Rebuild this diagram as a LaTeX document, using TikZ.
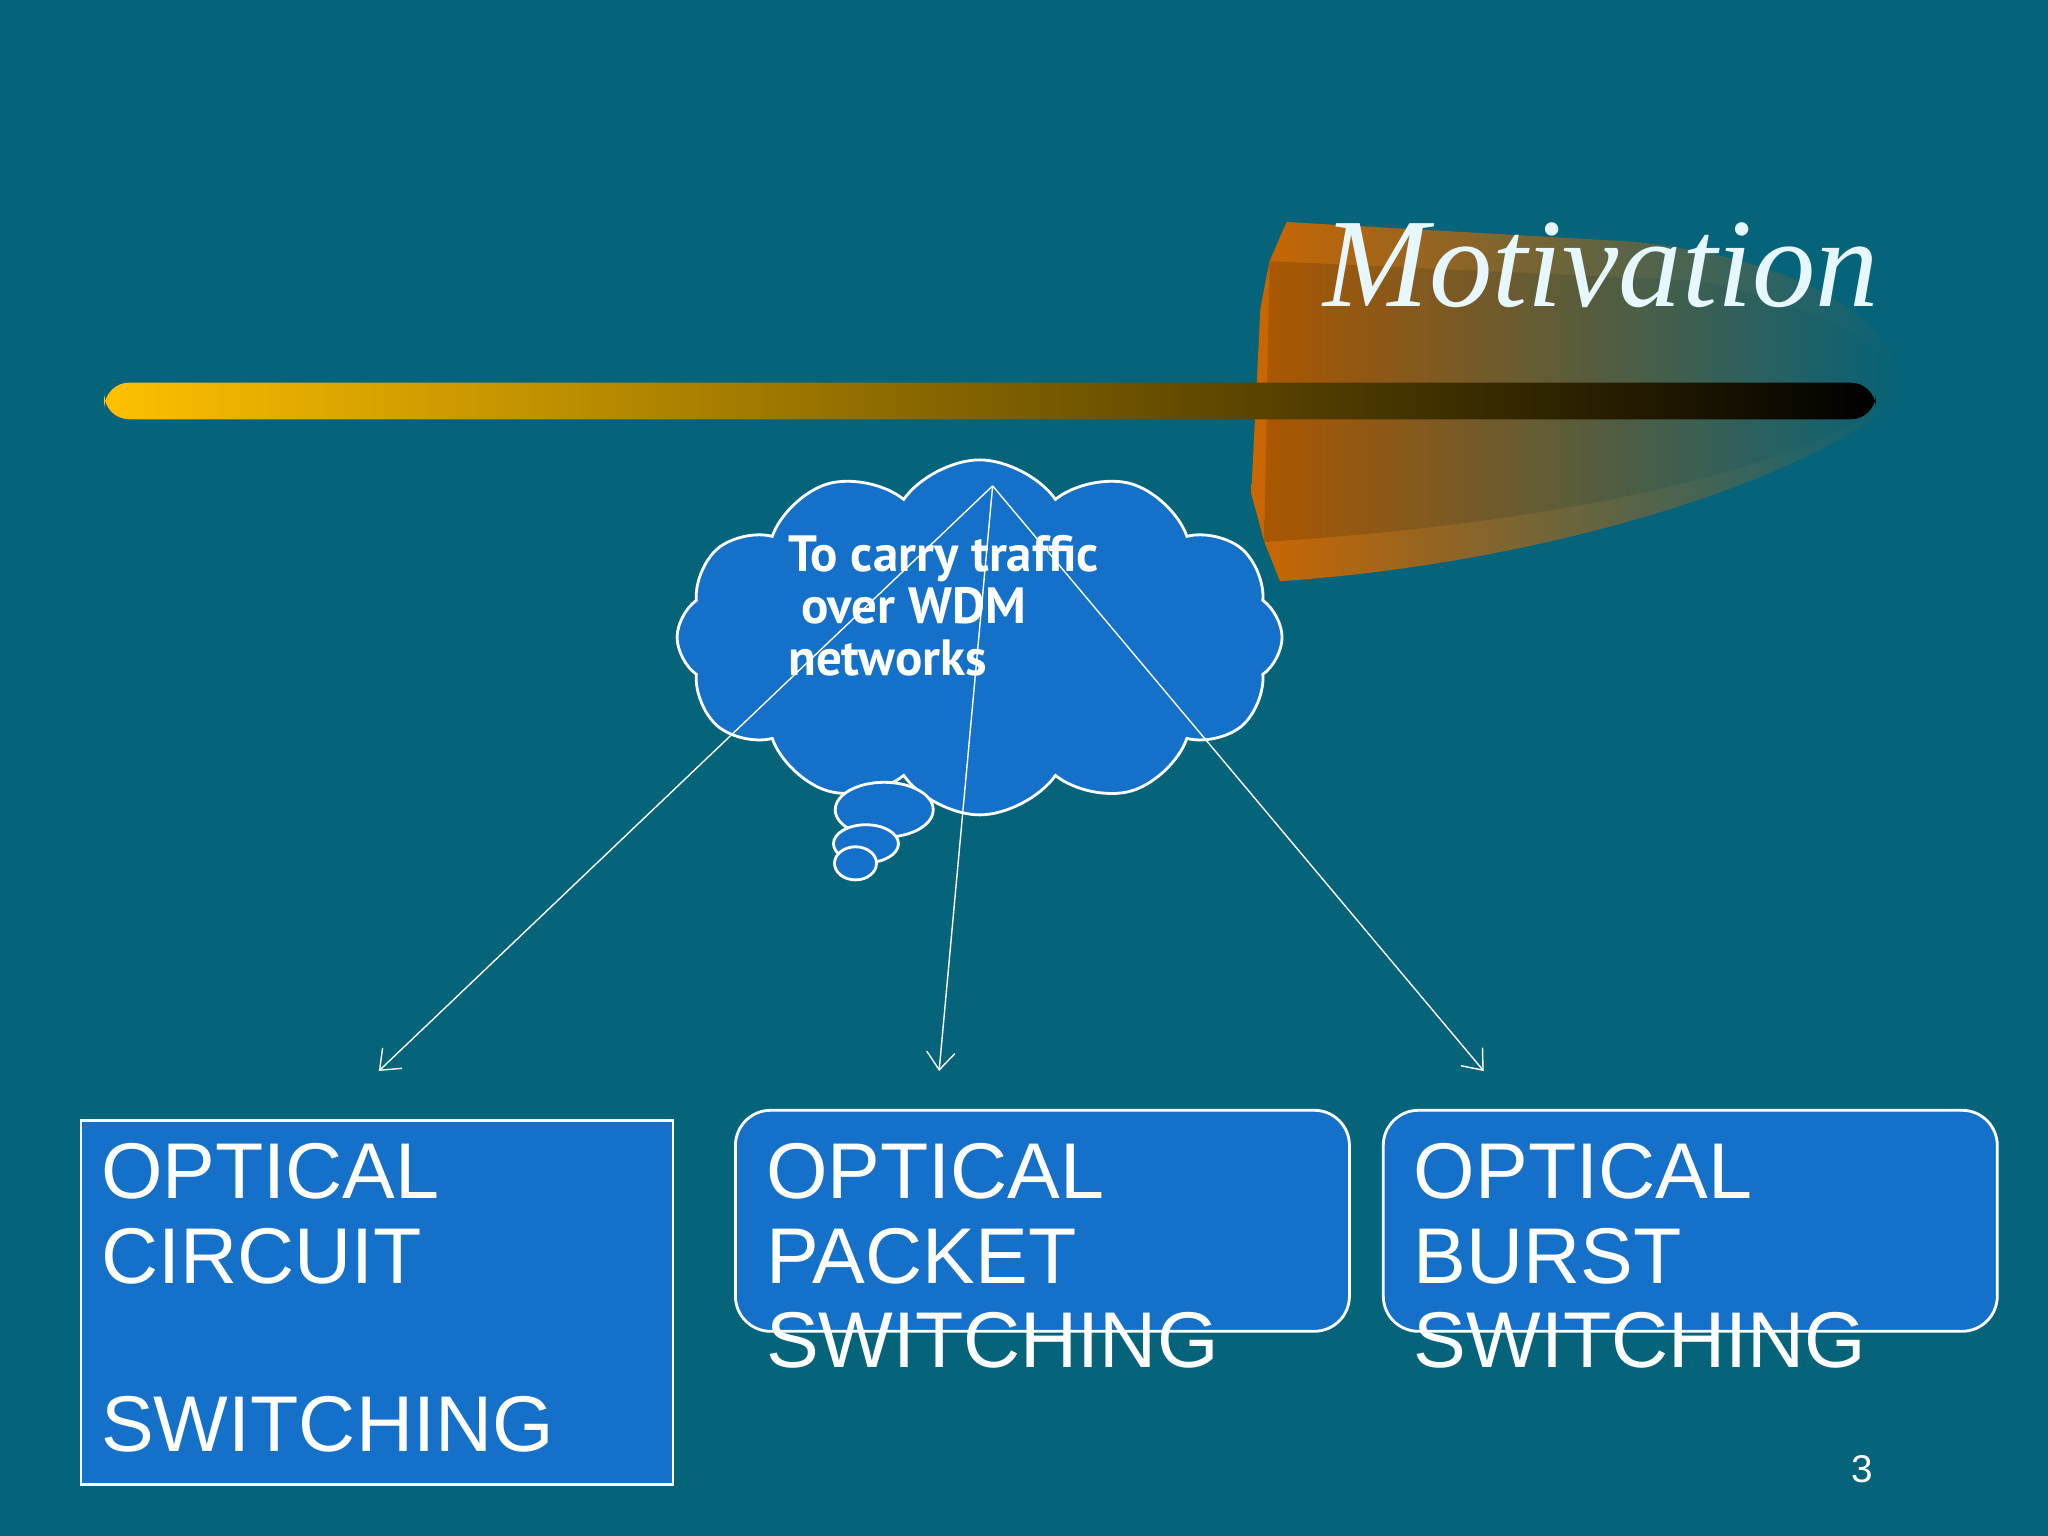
\documentclass[tikz,border=0pt]{standalone}
\usepackage{fontspec}
\setmainfont{Liberation Sans}
\newfontfamily\titlefont{Liberation Serif}
\newfontfamily\cloudfont{PT Sans}
\usetikzlibrary{arrows.meta}
\usetikzlibrary{shapes.symbols}
\usetikzlibrary{shapes.geometric}
\definecolor{bgteal}{HTML}{05637A}
\definecolor{boxblue}{HTML}{1470C8}
\definecolor{baryellow}{HTML}{FFC000}
\begin{document}
\begin{tikzpicture}[x=0.01306cm, y=-0.01306cm,
        box_style/.style={draw=white, thick, fill=boxblue, anchor=north west},
        box_text/.style={anchor=north west, align=left, text=white, font=\fontsize{22.5}{24}\selectfont},
        bubble_style/.style={draw=white, thick, fill=boxblue},
        edge_style/.style={draw=white, thin, -{Straight Barb[length=5pt, width=8pt]}}]

        \fill [bgteal] (0,0) rectangle (1568,1176);

        % swoosh behind the title
        \shade [left color=orange!80!black, right color=bgteal] (985,170) -- (1250,185) .. controls (1400,200) and (1460,260) .. (1460,300) .. controls (1400,360) and (1200,430) .. (980,445) -- (968,415) -- (958,378) -- (965,236) -- (972,200) -- cycle;
        \shade [left color=orange!60!black, right color=bgteal, opacity=0.6] (972,200) -- (1300,215) .. controls (1420,240) and (1460,280) .. (1460,300) .. controls (1380,360) and (1200,400) .. (968,415) -- cycle;
        \node [anchor=base west, text=cyan!10!white, font=\titlefont\itshape\fontsize{36}{36}\selectfont] (title) at (1004,235) {Motivation};

        % bar
        \shade [left color=baryellow, right color=black, rounded corners=7pt] (80,293) rectangle (1436,321);

        % cloud
        \node [cloud, cloud puffs=12, cloud puff arc=110, aspect=1.7, draw=white, thick, fill=boxblue, inner sep=0pt, minimum width=6.05cm, minimum height=3.55cm] (cloud) at (750,488) {};
        \node [bubble_style, ellipse, minimum width=0.98cm, minimum height=0.55cm] (b1) at (677,620) {};
        \node [bubble_style, ellipse, minimum width=0.65cm, minimum height=0.38cm] (b2) at (663,646) {};
        \node [bubble_style, ellipse, minimum width=0.42cm, minimum height=0.24cm] (b3) at (655,661) {};
        \node [anchor=north west, align=left, text=white, font=\cloudfont\bfseries\fontsize{14.5}{14.8}\selectfont] (goal) at (594,400) {To carry traffic\\\ over WDM\\networks};

        % boxes
        \node [box_style, minimum width=5.92cm, minimum height=3.64cm] (ocs) at (61,857) {};
        \node [box_style, rounded corners=10pt, minimum width=6.14cm, minimum height=2.21cm] (ops) at (562,849) {};
        \node [box_style, rounded corners=10pt, minimum width=6.14cm, minimum height=2.21cm] (obs) at (1058,849) {};
        \node [box_text] (ocs_text) at (68,866) {OPTICAL\\CIRCUIT\\\\SWITCHING};
        \node [box_text] (ops_text) at (577,866) {OPTICAL\\PACKET\\SWITCHING};
        \node [box_text] (obs_text) at (1073,866) {OPTICAL\\BURST\\SWITCHING};

        % arrows
        \coordinate (top) at (760,372);
        \coordinate (e1) at (290,820);
        \coordinate (e2) at (719,820);
        \coordinate (e3) at (1136,820);
        \draw [edge_style] (top) -- (e1);
        \draw [edge_style] (top) -- (e2);
        \draw [edge_style] (top) -- (e3);

        \node [text=white, font=\fontsize{11}{11}\selectfont] (page) at (1426,1125) {3};
        \end{tikzpicture}
\end{document}
